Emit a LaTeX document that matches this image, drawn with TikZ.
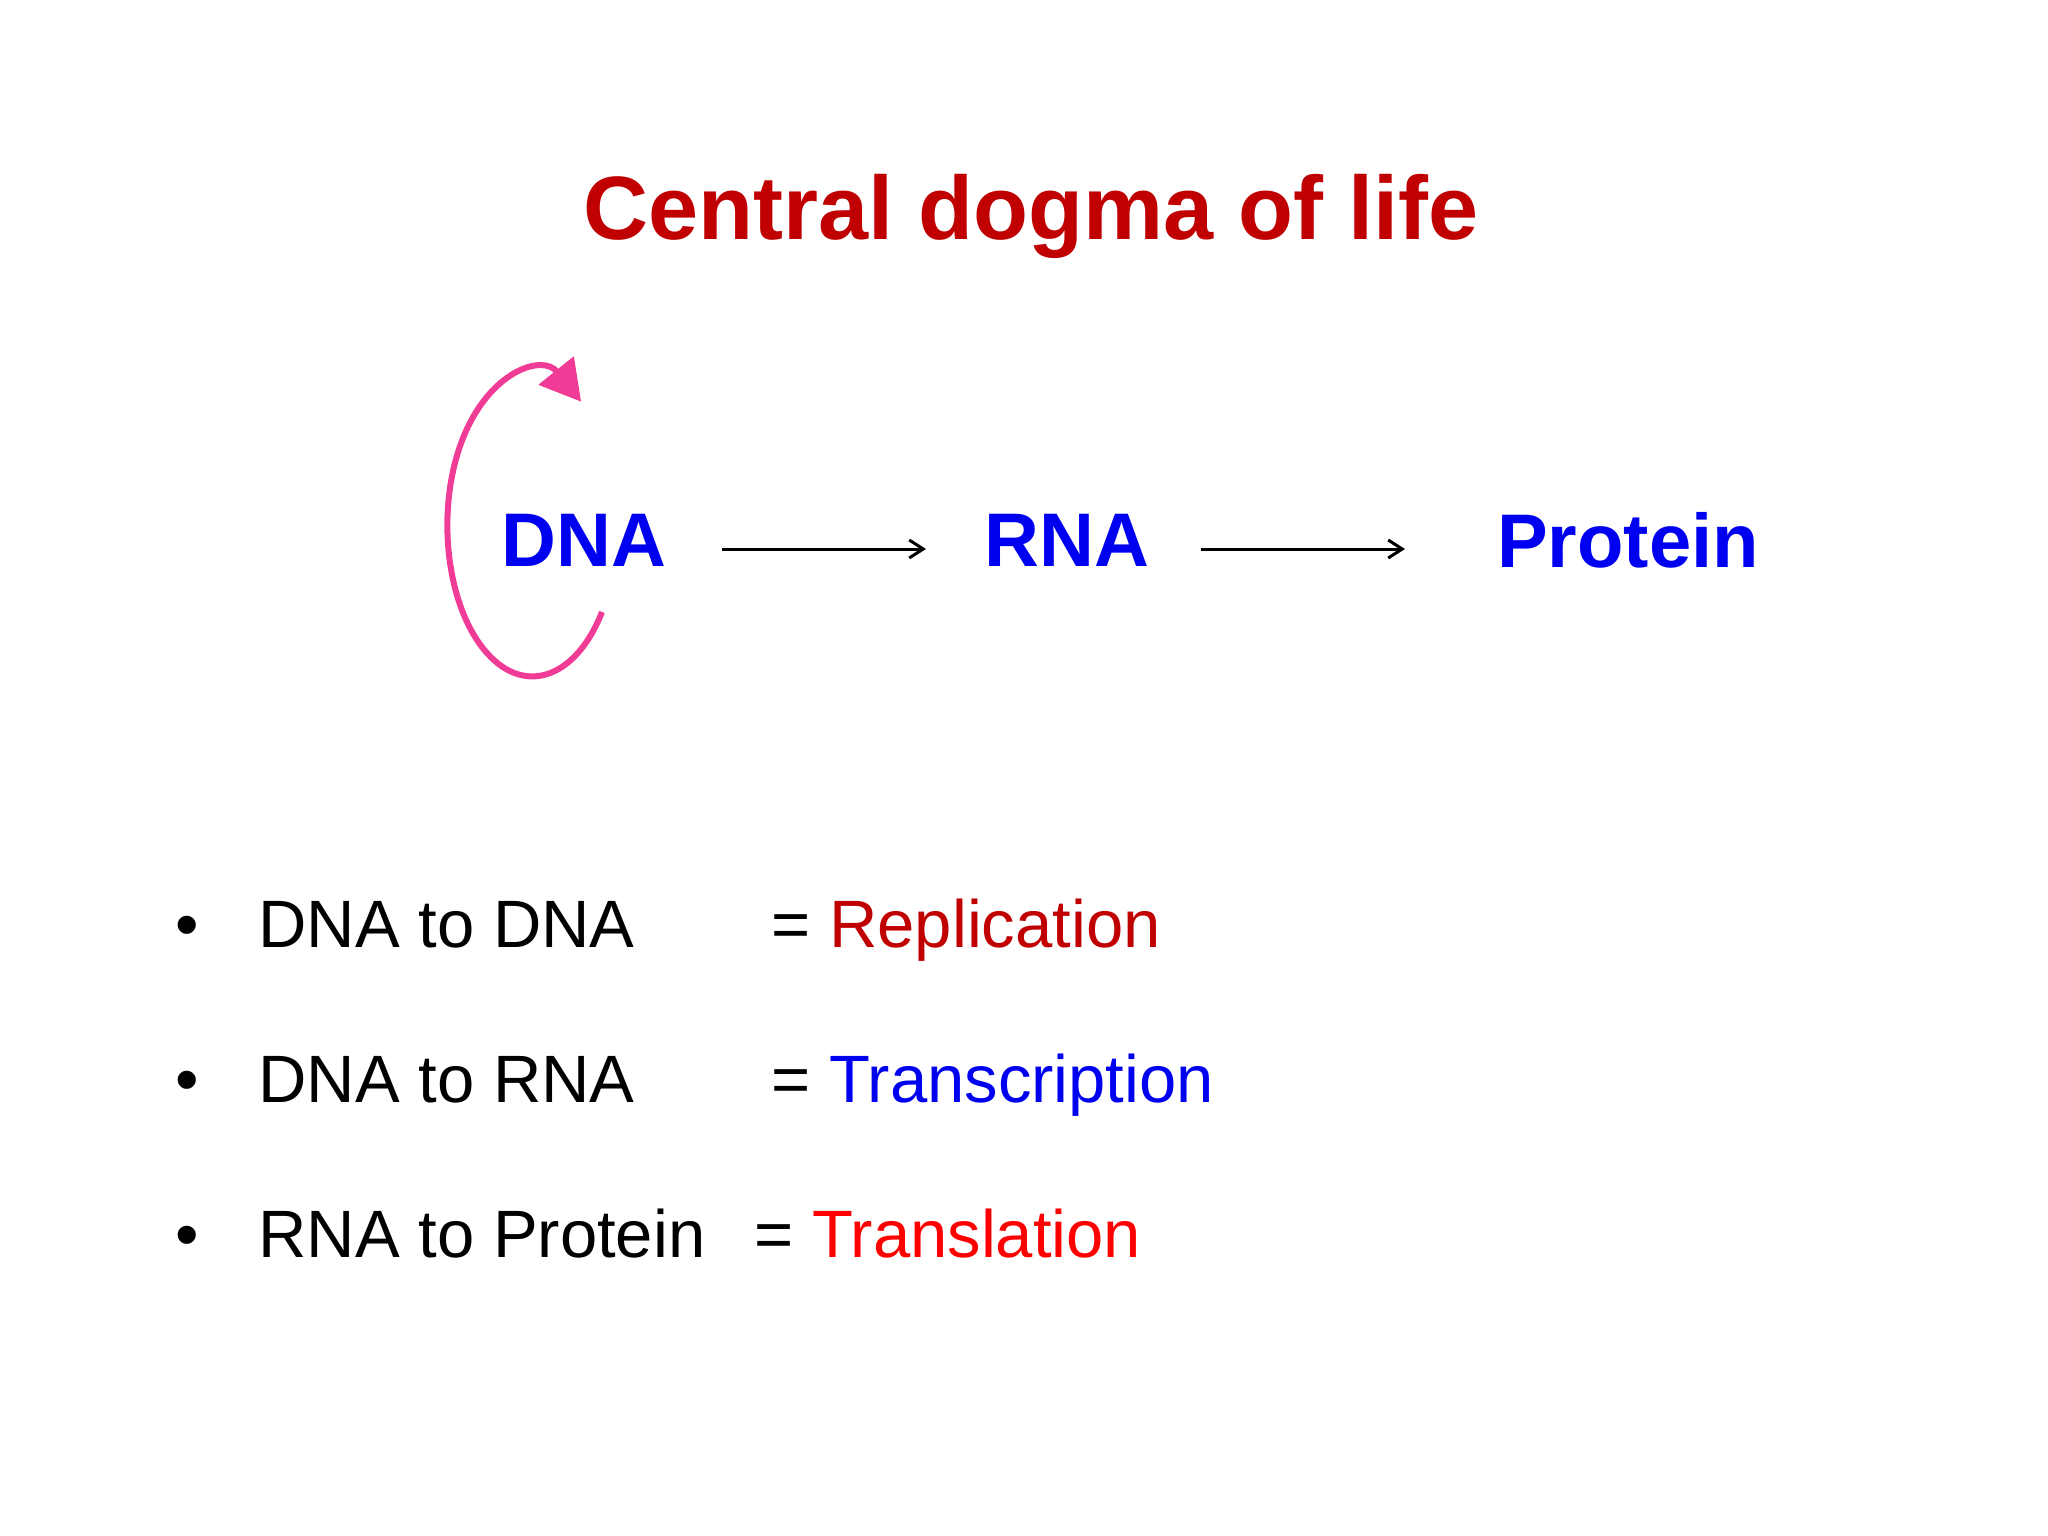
\documentclass[tikz,border=0pt]{standalone}
\usepackage{fontspec}
\setmainfont{Liberation Sans}
\usetikzlibrary{arrows.meta}
\definecolor{dred}{RGB}{192,0,0}
\definecolor{dblue}{RGB}{0,0,240}
\definecolor{pink}{RGB}{240,60,150}
\begin{document}
\begin{tikzpicture}[x=1pt,y=-1pt,
  mol/.style={font=\fontsize{76}{86}\selectfont\bfseries,text=dblue},
  txt/.style={font=\fontsize{67}{78}\selectfont,anchor=base west},
  arr/.style={-{Straight Barb[length=14pt,width=18pt]},line width=3pt}]
\useasboundingbox (0,0) rectangle (2048,1536);
\node[font=\fontsize{90}{100}\selectfont\bfseries,text=dred] (title) at (1031,216) {Central dogma of life};
\node[mol] (dna) at (584,540) {DNA};
\node[mol] (rna) at (1067,540) {RNA};
\node[mol] (prot) at (1628,540) {Protein};
\coordinate (a1) at (722,549); \coordinate (a2) at (926,549);
\coordinate (b1) at (1201,549); \coordinate (b2) at (1405,549);
\draw[arr] (a1) -- (a2);
\draw[arr] (b1) -- (b2);
\draw[pink,line width=6pt,-{Triangle[length=40pt,width=44pt]}]
  (602,612) arc[start angle=35,end angle=305,x radius=85,y radius=151];
\foreach \y/\a/\b/\c/\col in {947/DNA to DNA/768/Replication/dred,1102/DNA to RNA/768/Transcription/dblue,1257/RNA to Protein/751/Translation/red}{
  \node[txt] at (172,\y) {•};
  \node[txt] at (255,\y) {\a};
  \node[txt] at (\b,\y) {= \textcolor{\col}{\c}};
}
\end{tikzpicture}
\end{document}
